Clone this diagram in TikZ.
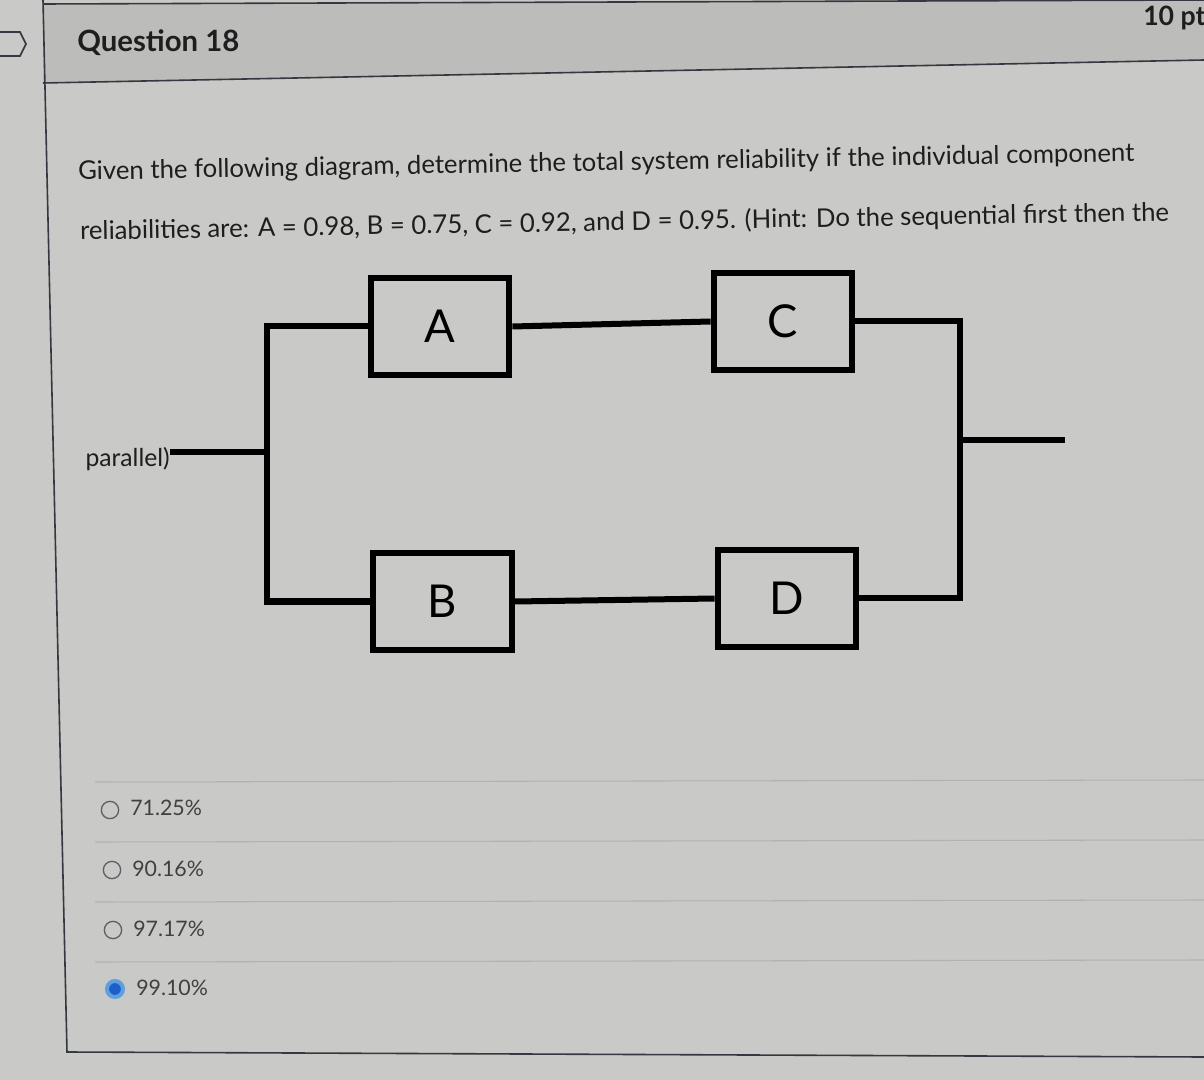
\documentclass[tikz,border=0pt]{standalone}
\usepackage{fontspec}
\setmainfont{Lato}
\usetikzlibrary{positioning}
\definecolor{screen}{HTML}{C9C9C7}
\definecolor{header}{HTML}{BCBCBA}
\definecolor{frame}{HTML}{33393E}
\definecolor{rule}{HTML}{B2B2B0}
\definecolor{ink}{HTML}{1E1E1E}
\definecolor{radio}{HTML}{1B5FC9}
\definecolor{radioring}{HTML}{5E9FE0}

\begin{document}
\begin{tikzpicture}[x=0.75pt, y=-0.75pt,
    block/.style={draw, line width=4.5pt, minimum width=104pt, minimum height=73pt, inner sep=0pt, font=\fontsize{34}{34}\selectfont},
    wire/.style={line width=4.5pt},
    body/.style={anchor=base west, inner sep=0pt, text=ink, font=\fontsize{19.3}{19.3}\selectfont, rotate=1},
    heading/.style={anchor=base west, inner sep=0pt, text=ink, font=\bfseries\fontsize{22}{22}\selectfont},
    choice/.style={circle, draw=frame!80, line width=1pt, minimum size=13pt, inner sep=0pt},
    answer/.style={anchor=base west, inner sep=0pt, text=ink!85, font=\fontsize{16}{16}\selectfont}]
    \useasboundingbox (0,0) rectangle (1204,1080);
    \fill[screen] (0,0) rectangle (1204,1080);
    \fill[header] (43,4) -- (1204,0) -- (1204,60) -- (43,83) -- cycle;
    \draw[frame, line width=1.2pt] (43,4) -- (1204,0);
    \draw[frame, line width=1.2pt] (43,83) -- (1204,60);
    \draw[frame, line width=1.2pt] (43,0) -- (67,1052) -- (1204,1057);
    \draw[frame, line width=1.2pt] (0,32) -- (20,32) -- (26,44) -- (20,56) -- (0,56);

    \node[heading] (title) at (77,52) {Question 18};
    \node[heading, font=\bfseries\fontsize{20}{20}\selectfont] (points) at (1143,26) {10 pt};

    \node[body] (line1) at (78,180) {Given the following diagram, determine the total system reliability if the individual component};
    \node[body] (line2) at (80,240) {reliabilities are: A = 0.98, B = 0.75, C = 0.92, and D = 0.95. (Hint: Do the sequential first then the};

    \node[block] (A) at (440,326.5) {A};
    \node[block] (C) at (783,321.5) {C};
    \node[block] (B) at (442.5,601.5) {B};
    \node[block] (D) at (787,598.5) {D};

    \coordinate (lt) at (267,326.5);
    \coordinate (lb) at (267,601.5);
    \coordinate (lm) at (267,452);
    \coordinate (in) at (170,452);
    \coordinate (rt) at (960,321.5);
    \coordinate (rb) at (960,598.5);
    \coordinate (rm) at (960,440);
    \coordinate (out) at (1065,440);

    \node[anchor=base east, inner sep=0pt, text=ink, font=\fontsize{18.5}{18.5}\selectfont] (parallel) at (in |- 0,467) {parallel)};

    \draw[wire]
    (A.east) -- (C.west)
    (B.east) -- (D.west);
    \draw[wire, line join=miter] (A.west) -- (lt) -- (lb) -- (B.west);
    \draw[wire, line join=miter] (C.east) -- (rt) -- (rb) -- (D.east);
    \draw[wire] (in) -- (lm);
    \draw[wire] (rm) -- (out);

    \foreach \y in {782,842,902,962}
        \draw[rule, line width=0.8pt] (95,\y) -- (1204,\y-2);

    \node[choice] (o1) at (110,810) {};
    \node[choice] (o2) at (112,870) {};
    \node[choice] (o3) at (113,930) {};
    \node[choice, draw=radioring, line width=3pt, fill=radio, minimum size=12pt] (o4) at (115,989) {};
    \node[answer] (a1) at (130,815) {71.25\%};
    \node[answer] (a2) at (132,876) {90.16\%};
    \node[answer] (a3) at (133,936) {97.17\%};
    \node[answer] (a4) at (136,995) {99.10\%};
\end{tikzpicture}
\end{document}
